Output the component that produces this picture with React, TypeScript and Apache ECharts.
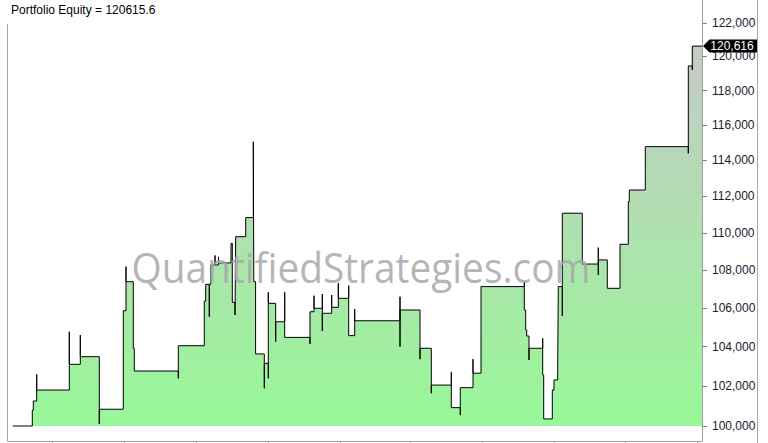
import React, { useEffect, useRef } from "react";
import * as echarts from "echarts";

// bar position (trading-bar index) and portfolio equity, step-wise (value changes at that bar)
const barIndex = [
  4.7, 24.3, 25.3, 28.7, 28.7, 61.3, 61.3, 72.3, 72.3, 91.3,
  91.3, 115.3, 118, 118, 125.3, 126.3, 170.3, 170.3, 196.3, 197.7,
  201.3, 201.3, 202.7, 207, 207, 210.5, 210.5, 223, 224.3, 227,
  227.7, 237.7, 245.3, 245.8, 247.6, 256.3, 256.3, 260.3, 260.3, 260.3,
  267.7, 267.7, 276.7, 276.7, 302, 302, 306, 306, 314.3, 314.3,
  314.3, 323.7, 323.7, 330.3, 330.3, 340.7, 340.7, 346.7, 346.7, 392,
  392, 392, 412, 412, 423.3, 423.3, 443.3, 443.3, 452.3, 452.3,
  465, 465, 473, 516.3, 516.3, 517.7, 518.7, 521, 521, 534.7,
  534.7, 535.7, 544.3, 546, 549.7, 550.3, 554.3, 554.3, 574.3, 590.3,
  590.3, 590.3, 599.3, 612, 620.3, 621.3, 637.3, 680.3, 680.3, 684.3,
  684.3, 694,
];

const equity = [
  100000, 100790, 101240, 102580, 101790, 104760, 103090, 104590, 103480, 100100,
  100830, 105850, 108180, 107380, 103910, 102750, 102380, 104040, 106360, 107240,
  105540, 107240, 108270, 108780, 108270, 108700, 108380, 109430, 106290, 105630,
  109790, 110830, 115060, 107380, 103620, 101880, 103140, 102380, 106820, 106240,
  104250, 105280, 106820, 104470, 104130, 105800, 106640, 105980, 106730, 104800,
  105720, 106680, 106030, 107300, 106500, 107170, 104560, 105940, 105330, 106590,
  103990, 105890, 103350, 103910, 101630, 102040, 102690, 100910, 100540, 101910,
  103350, 102640, 107120, 107380, 105890, 104850, 104540, 103310, 103910, 104420,
  102550, 100350, 101790, 102300, 102890, 107120, 105580, 111070, 108320, 109200,
  107740, 108540, 107030, 109380, 111700, 112350, 114780, 114400, 119440, 119200,
  120616, 120616,
];

const yTickValues = [
  100000, 102000, 104000, 106000, 108000, 110000, 112000, 114000, 116000, 118000, 120000, 122000,
];
const xTickValues = [44.7, 116.3, 188.7, 260.3, 332, 402.7, 474.3, 546, 617.7, 689.3];

const titleText = "Portfolio Equity = 120615.6";
const watermarkText = "QuantifiedStrategies.com";
const lastValue = 120616;

export default function App() {
  const ref = useRef<HTMLDivElement>(null);

  useEffect(() => {
    document.body.style.margin = "0";
    const chart = echarts.init(ref.current!, null, { renderer: "svg" });
    const data = barIndex.map((x, i) => [x, equity[i]]);
    const fmt = (v: number) => Math.round(v).toLocaleString("en-US");

    chart.setOption({
      animation: false,
      grid: { left: 8, right: 66, top: 0, bottom: 2 },
      xAxis: {
        type: "value",
        min: 0,
        max: 694,
        axisLine: { show: true, onZero: false, lineStyle: { color: "#a0a0a0", width: 1 } },
        axisTick: { show: true, length: 5, customValues: xTickValues, lineStyle: { color: "#a0a0a0" } },
        axisLabel: { show: false },
        splitLine: { show: false },
      },
      yAxis: {
        type: "log",
        position: "right",
        min: 99262.6,
        max: 123392.5,
        axisLine: { show: true, onZero: false, lineStyle: { color: "#a0a0a0", width: 1 } },
        axisTick: { show: true, length: 5, customValues: yTickValues, lineStyle: { color: "#808080" } },
        axisLabel: {
          customValues: yTickValues,
          formatter: (v: number) => fmt(v),
          margin: 10,
          color: "#1a1a2a",
          fontSize: 12,
          fontFamily: "Liberation Sans",
        },
        splitLine: { show: false },
        minorTick: { show: false },
      },
      series: [
        {
          type: "line",
          step: "end",
          data,
          symbol: "none",
          lineStyle: { color: "#000", width: 1 },
          areaStyle: {
            origin: 100000,
            opacity: 1,
            color: new echarts.graphic.LinearGradient(0, 0, 0, 1, [
              { offset: 0, color: "#c4cac4" },
              { offset: 1, color: "#98f898" },
            ]),
          },
          markPoint: {
            symbol: "path://M0,6.5L6.5,0L54,0L54,13L6.5,13Z",
            symbolSize: [54, 13],
            symbolOffset: [28, 0],
            symbolKeepAspect: false,
            itemStyle: { color: "#000" },
            label: {
              show: true,
              position: "inside",
              offset: [2, 0],
              color: "#fff",
              fontSize: 12,
              fontFamily: "Liberation Sans",
              formatter: () => fmt(lastValue),
            },
            data: [{ coord: [barIndex[barIndex.length - 1], lastValue] }],
          },
        },
      ],
      graphic: [
        {
          type: "text",
          left: 11,
          top: 4,
          style: { text: titleText, fontSize: 12, fontFamily: "Liberation Sans", fill: "#000" },
        },
        {
          type: "text",
          x: 361,
          y: 267,
          scaleX: 0.925,
          z: 100,
          style: {
            text: watermarkText,
            fontSize: 42,
            fontFamily: "Open Sans",
            fill: "rgba(168,168,168,0.85)",
            align: "center",
            verticalAlign: "middle",
          },
        },
        {
          type: "line",
          shape: { x1: 7.5, y1: 24, x2: 7.5, y2: 441 },
          style: { stroke: "#a8a8a8", lineWidth: 1 },
        },
        {
          type: "line",
          shape: { x1: 757.5, y1: 0, x2: 757.5, y2: 443 },
          style: { stroke: "#a8a8a8", lineWidth: 1 },
        },
      ],
    });

    return () => chart.dispose();
  }, []);

  return <div ref={ref} style={{ width: 768, height: 443 }} />;
}
